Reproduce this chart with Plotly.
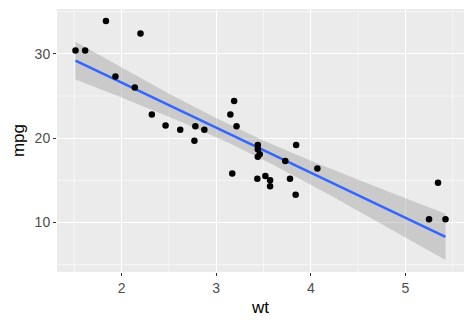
import numpy as np
import plotly.graph_objects as go

wt = [2.620, 2.875, 2.320, 3.215, 3.440, 3.460, 3.570, 3.190, 3.150, 3.440, 3.440,
      4.070, 3.730, 3.780, 5.250, 5.424, 5.345, 2.200, 1.615, 1.835, 2.465, 3.520,
      3.435, 3.840, 3.845, 1.935, 2.140, 1.513, 3.170, 2.770, 3.570, 2.780]
mpg = [21.0, 21.0, 22.8, 21.4, 18.7, 18.1, 14.3, 24.4, 22.8, 19.2, 17.8,
       16.4, 17.3, 15.2, 10.4, 10.4, 14.7, 32.4, 30.4, 33.9, 21.5, 15.5,
       15.2, 13.3, 19.2, 27.3, 26.0, 30.4, 15.8, 19.7, 15.0, 21.4]
x_ticks = [2, 3, 4, 5]
y_ticks = [10, 20, 30]

x = np.array(wt)
y = np.array(mpg)
n = len(x)
b1, b0 = np.polyfit(x, y, 1)
resid = y - (b0 + b1 * x)
sigma = np.sqrt(np.sum(resid ** 2) / (n - 2))
sxx = np.sum((x - x.mean()) ** 2)
tval = 2.042272
xs = np.linspace(x.min(), x.max(), 80)
fit = b0 + b1 * xs
se = sigma * np.sqrt(1 / n + (xs - x.mean()) ** 2 / sxx)
lo = fit - tval * se
hi = fit + tval * se

xmin, xmax = x.min(), x.max()
xpad = (xmax - xmin) * 0.05
ymin, ymax = min(y.min(), lo.min()), max(y.max(), hi.max())
ypad = (ymax - ymin) * 0.05

fig = go.Figure()
fig.add_trace(go.Scatter(x=np.concatenate([xs, xs[::-1]]), y=np.concatenate([hi, lo[::-1]]),
                         fill="toself", fillcolor="rgba(153,153,153,0.4)", line=dict(width=0),
                         mode="lines", hoverinfo="skip"))
fig.add_trace(go.Scatter(x=xs, y=fit, mode="lines", line=dict(color="#3366FF", width=2.5)))
fig.add_trace(go.Scatter(x=wt, y=mpg, mode="markers",
                         marker=dict(color="black", size=6.5)))

minor_x = [1.5, 2.5, 3.5, 4.5, 5.5]
minor_y = [5, 15, 25, 35]
for mx in minor_x:
    fig.add_shape(type="line", x0=mx, x1=mx, y0=0, y1=1, yref="paper",
                  line=dict(color="#FAFAFA", width=0.7), layer="below")
for my in minor_y:
    fig.add_shape(type="line", y0=my, y1=my, x0=0, x1=1, xref="paper",
                  line=dict(color="#FAFAFA", width=0.7), layer="below")

axis_common = dict(showgrid=True, gridcolor="white", gridwidth=1.2, zeroline=False,
                   ticks="outside", ticklen=3, tickcolor="#333333", tickwidth=1,
                   tickfont=dict(family="Liberation Sans, Arial", size=14, color="#4D4D4D"),
                   showline=False)
fig.update_layout(
    width=474, height=325,
    margin=dict(l=57, r=10, t=9, b=53),
    paper_bgcolor="white", plot_bgcolor="#EBEBEB",
    showlegend=False,
    xaxis=dict(range=[xmin - xpad, xmax + xpad], tickvals=x_ticks,
               title=dict(text="wt", font=dict(family="Liberation Sans, Arial", size=17, color="black"), standoff=6),
               **axis_common),
    yaxis=dict(range=[ymin - ypad, ymax + ypad], tickvals=y_ticks,
               title=dict(text="mpg", font=dict(family="Liberation Sans, Arial", size=17, color="black"), standoff=5),
               **axis_common),
)
fig.write_html("out.html")
